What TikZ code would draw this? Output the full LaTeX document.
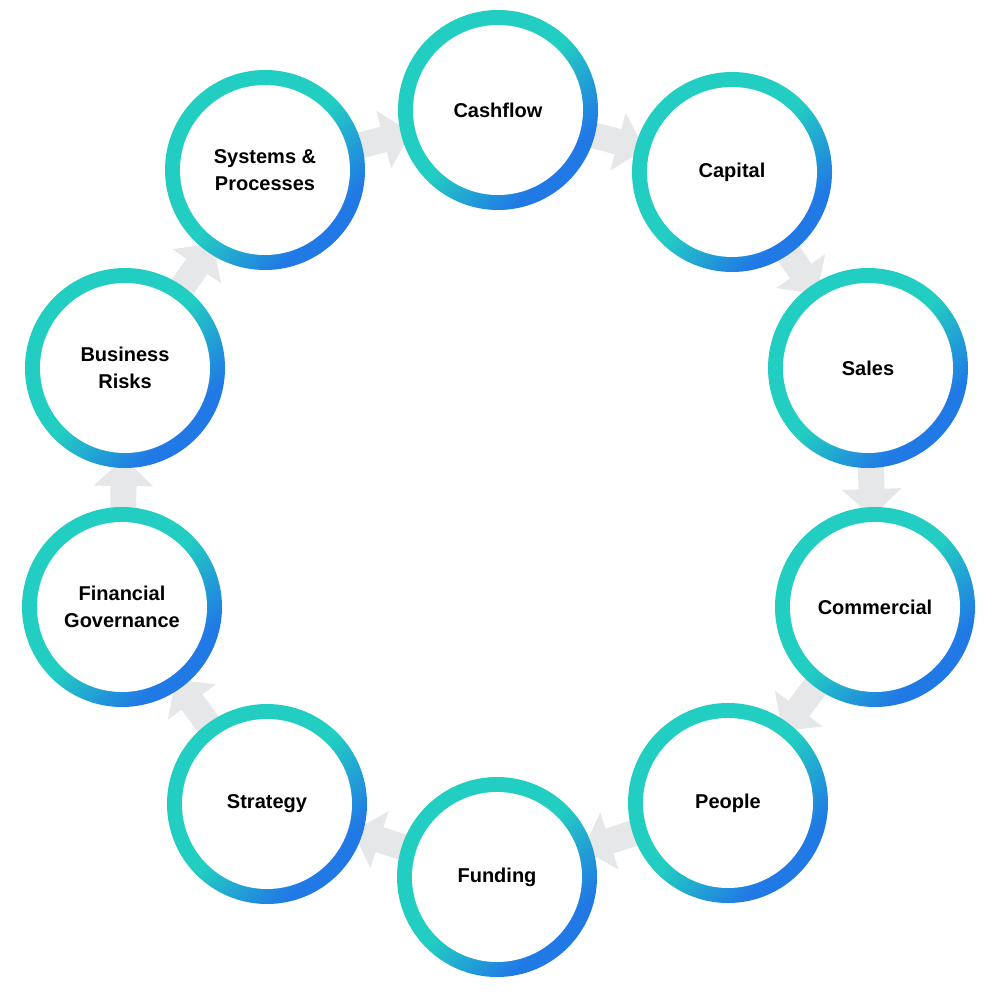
\documentclass[tikz,border=0pt]{standalone}
\usepackage{fontspec}
\setmainfont{Liberation Sans}
\usetikzlibrary{arrows.meta}
\definecolor{teal1}{HTML}{22CDC2}
\definecolor{blue1}{HTML}{2179E6}
\definecolor{arr}{HTML}{E6E7E9}
\pgfdeclareverticalshading{ringshade}{100bp}{color(0bp)=(blue1); color(30bp)=(blue1); color(50bp)=(teal1); color(100bp)=(teal1)}
\begin{document}
\begin{tikzpicture}[x=1pt,y=-1pt,
  conn/.style={arr,line width=26pt,shorten <=60pt,shorten >=90pt,-{Triangle[width=58pt,length=28pt]}},
  lbl/.style={circle,fill=white,minimum size=170pt,inner sep=0pt,align=center,font=\bfseries\fontsize{20}{27}\selectfont}]
\useasboundingbox (0,0) rectangle (1000,1000);
\coordinate (c1) at (498,110);
\coordinate (c2) at (732,172);
\coordinate (c3) at (868,368);
\coordinate (c4) at (875,607);
\coordinate (c5) at (728,803);
\coordinate (c6) at (497,877);
\coordinate (c7) at (267,804);
\coordinate (c8) at (122,607);
\coordinate (c9) at (125,368);
\coordinate (c10) at (265,170);
\foreach \a/\b in {c1/c2,c2/c3,c3/c4,c4/c5,c5/c6,c6/c7,c7/c8,c8/c9,c9/c10,c10/c1}
  \draw[conn] (\a) -- (\b);
\foreach \c in {c1,c2,c3,c4,c5,c6,c7,c8,c9,c10}
  \shade[shading=ringshade,shading angle=45] (\c) circle[radius=100pt];
\node[lbl] (n1) at (c1) {Cashflow};
\node[lbl] (n2) at (c2) {Capital};
\node[lbl] (n3) at (c3) {Sales};
\node[lbl] (n4) at (c4) {Commercial};
\node[lbl] (n5) at (c5) {People};
\node[lbl] (n6) at (c6) {Funding};
\node[lbl] (n7) at (c7) {Strategy};
\node[lbl] (n8) at (c8) {Financial\\Governance};
\node[lbl] (n9) at (c9) {Business\\Risks};
\node[lbl] (n10) at (c10) {Systems \&\\Processes};
\end{tikzpicture}
\end{document}
